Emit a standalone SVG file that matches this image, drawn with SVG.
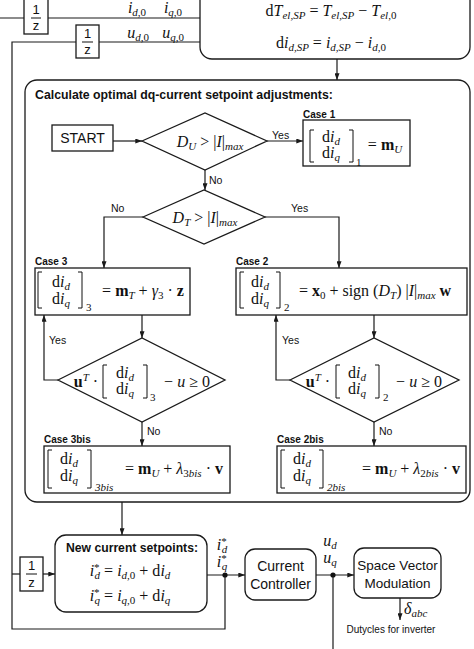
<svg xmlns="http://www.w3.org/2000/svg" width="474" height="649" viewBox="0 0 474 649">
<defs>
<marker id="ah" viewBox="0 0 8 6" refX="8" refY="3" markerWidth="7" markerHeight="5" markerUnits="userSpaceOnUse" orient="auto"><path d="M0,0 L8,3 L0,6 z" fill="#1a1a1a"/></marker>
<style>
.ln{fill:none;stroke:#1a1a1a;stroke-width:1.2}
.bx{fill:#fff;stroke:#1a1a1a;stroke-width:1.3}
.br{fill:none;stroke:#111;stroke-width:1}
.m{font-family:"Liberation Serif","DejaVu Serif",serif;font-size:16px;fill:#111}
.r{font-size:16px}
.i{font-style:italic}
.s{font-size:11px}
.b{font-weight:bold}
.sa{font-family:"Liberation Sans",Arial,sans-serif;fill:#111}
.lbl{font-size:10px;font-weight:bold}
.yn{font-size:10.5px}
.z{font-size:13px}
</style>
</defs>
<rect width="474" height="649" fill="#fff"/>

<g id="optimizer">
<rect class="bx" x="25" y="80" width="445" height="422" rx="12"/>
<text class="sa b" x="35" y="99" font-size="12.3">Calculate optimal dq-current setpoint adjustments:</text>
</g>

<g id="setpoint-box">
<rect class="bx" x="200" y="-30" width="270" height="89" rx="12"/>
<text class="m" x="331" y="16" text-anchor="middle" font-size="19">d<tspan class="i">T</tspan><tspan class="i s" dy="3">el,SP</tspan><tspan dy="-3"> = </tspan><tspan class="i">T</tspan><tspan class="i s" dy="3">el,SP</tspan><tspan dy="-3"> − </tspan><tspan class="i">T</tspan><tspan class="s" dy="3"><tspan class="i">el</tspan>,0</tspan></text>
<text class="m" x="331" y="48" text-anchor="middle" font-size="19">d<tspan class="i">i</tspan><tspan class="i s" dy="3">d,SP</tspan><tspan dy="-3"> = </tspan><tspan class="i">i</tspan><tspan class="i s" dy="3">d,SP</tspan><tspan dy="-3"> − </tspan><tspan class="i">i</tspan><tspan class="s" dy="3"><tspan class="i">d</tspan>,0</tspan></text>
</g>

<g id="connectors">
<path class="ln" d="M0 18 H24 M48 18 H200"/>
<path class="ln" d="M99 42 H200"/>
<path class="ln" d="M76 42 H12 V629 H225 V575"/>
<path class="ln" d="M337 59 V80" marker-end="url(#ah)"/>
<path class="ln" d="M113 141 H142" marker-end="url(#ah)"/>
<path class="ln" d="M267 141 H303" marker-end="url(#ah)"/>
<path class="ln" d="M205 170 V190" marker-end="url(#ah)"/>
<path class="ln" d="M143 217 H104 V268" marker-end="url(#ah)"/>
<path class="ln" d="M265 217 H339 V268" marker-end="url(#ah)"/>
<path class="ln" d="M142 315 V338" marker-end="url(#ah)"/>
<path class="ln" d="M58 380 H44 V315" marker-end="url(#ah)"/>
<path class="ln" d="M142 422 V446" marker-end="url(#ah)"/>
<path class="ln" d="M374 315 V338" marker-end="url(#ah)"/>
<path class="ln" d="M290 380 H276 V315" marker-end="url(#ah)"/>
<path class="ln" d="M374 422 V446" marker-end="url(#ah)"/>
<path class="ln" d="M122 502 V535" marker-end="url(#ah)"/>
<path class="ln" d="M12 574 H20"/>
<path class="ln" d="M43 574 H55" marker-end="url(#ah)"/>
<path class="ln" d="M207 575 H245" marker-end="url(#ah)"/>
<path class="ln" d="M316 575 H354" marker-end="url(#ah)"/>
<path class="ln" d="M333 575 V649"/>
<path class="ln" d="M400 598 V620" marker-end="url(#ah)"/>
<circle cx="225" cy="575" r="2.6" fill="#111"/>
<circle cx="333" cy="575" r="2.6" fill="#111"/>
</g>

<g id="labels">
<text class="m" x="137" y="13" text-anchor="middle"><tspan class="i">i</tspan><tspan class="s" dy="3"><tspan class="i">d</tspan>,0</tspan></text>
<text class="m" x="173" y="13" text-anchor="middle"><tspan class="i">i</tspan><tspan class="s" dy="3"><tspan class="i">q</tspan>,0</tspan></text>
<text class="m" x="138" y="38" text-anchor="middle"><tspan class="i">u</tspan><tspan class="s" dy="3"><tspan class="i">d</tspan>,0</tspan></text>
<text class="m" x="173" y="38" text-anchor="middle"><tspan class="i">u</tspan><tspan class="s" dy="3"><tspan class="i">q</tspan>,0</tspan></text>
<text class="sa yn" x="272" y="139">Yes</text>
<text class="sa yn" x="209" y="184">No</text>
<text class="sa yn" x="111" y="212">No</text>
<text class="sa yn" x="291" y="212">Yes</text>
<text class="sa yn" x="49" y="344">Yes</text>
<text class="sa yn" x="147" y="435">No</text>
<text class="sa yn" x="282" y="344">Yes</text>
<text class="sa yn" x="379" y="435">No</text>
<text class="m" x="222" y="550" text-anchor="middle"><tspan class="i">i</tspan><tspan class="s" dy="-5">*</tspan><tspan class="i s" dx="-5" dy="8">d</tspan></text>
<text class="m" x="222" y="567" text-anchor="middle"><tspan class="i">i</tspan><tspan class="s" dy="-5">*</tspan><tspan class="i s" dx="-5" dy="8">q</tspan></text>
<text class="m" x="330" y="546" text-anchor="middle"><tspan class="i">u</tspan><tspan class="i s" dy="3">d</tspan></text>
<text class="m" x="330" y="563" text-anchor="middle" font-size="14"><tspan class="i">u</tspan><tspan class="i s" dy="3">q</tspan></text>
<text class="m" x="404" y="614"><tspan class="i">δ</tspan><tspan class="i s" dy="3">abc</tspan></text>
<text class="sa" x="391" y="633" text-anchor="middle" font-size="10">Dutycles for inverter</text>
</g>

<g id="delay-top1">
<rect class="bx" x="24" y="-6" width="24" height="40"/>
<text class="sa z" x="36" y="14" text-anchor="middle">1</text>
<path class="br" d="M31 18 H41"/>
<text class="sa z" x="36" y="30" text-anchor="middle">z</text>
</g>
<g id="delay-top2">
<rect class="bx" x="76" y="25" width="23" height="33"/>
<text class="sa z" x="87.5" y="38" text-anchor="middle">1</text>
<path class="br" d="M82 42 H93"/>
<text class="sa z" x="87.5" y="54" text-anchor="middle">z</text>
</g>

<g id="start">
<rect class="bx" x="52" y="125" width="61" height="26"/>
<text class="sa" x="82.5" y="143" text-anchor="middle" font-size="14">START</text>
</g>

<g id="dec1">
<polygon class="bx" points="142,141 205,113 267,141 205,170"/>
<text class="m" x="210" y="147" text-anchor="middle" font-size="18"><tspan class="i">D</tspan><tspan class="i s" dy="3">U</tspan><tspan dy="-3"> &gt;  |</tspan><tspan class="i">I</tspan><tspan>|</tspan><tspan class="i s" dy="3">max</tspan></text>
</g>

<g id="case1">
<text class="sa lbl" x="303" y="118">Case 1</text>
<rect class="bx" x="303" y="120" width="107" height="46"/>
<path class="br" d="M314 130 H310 V162 H314 M349 130 H353 V162 H349"/>
<text class="m r" x="331" y="142" text-anchor="middle">d<tspan class="i">i</tspan><tspan class="i s" dy="3">d</tspan></text>
<text class="m r" x="331" y="158" text-anchor="middle">d<tspan class="i">i</tspan><tspan class="i s" dy="3">q</tspan></text>
<text class="m s" x="356" y="166">1</text>
<text class="m" x="385" y="150" text-anchor="middle" font-size="17">= <tspan class="b">m</tspan><tspan class="i s" dy="3">U</tspan></text>
</g>

<g id="dec2">
<polygon class="bx" points="143,217 204,190 265,217 204,244"/>
<text class="m" x="205" y="223" text-anchor="middle" font-size="18"><tspan class="i">D</tspan><tspan class="i s" dy="3">T</tspan><tspan dy="-3"> &gt; |</tspan><tspan class="i">I</tspan><tspan>|</tspan><tspan class="i s" dy="3">max</tspan></text>
</g>

<g id="case3">
<text class="sa lbl" x="35" y="265">Case 3</text>
<rect class="bx" x="35" y="268" width="155" height="47"/>
<path class="br" d="M42 272 H38 V308 H42 M78 272 H82 V308 H78"/>
<text class="m r" x="61" y="287" text-anchor="middle">d<tspan class="i">i</tspan><tspan class="i s" dy="3">d</tspan></text>
<text class="m r" x="61" y="304" text-anchor="middle">d<tspan class="i">i</tspan><tspan class="i s" dy="3">q</tspan></text>
<text class="m s" x="86" y="311">3</text>
<text class="m" x="143" y="296" text-anchor="middle" font-size="17">= <tspan class="b">m</tspan><tspan class="i s" dy="3">T</tspan><tspan dy="-3"> + </tspan><tspan class="i">γ</tspan><tspan class="s" dy="3">3</tspan><tspan dy="-3"> · </tspan><tspan class="b">z</tspan></text>
</g>

<g id="case2">
<text class="sa lbl" x="236" y="265">Case 2</text>
<rect class="bx" x="236" y="268" width="231" height="47"/>
<path class="br" d="M244 272 H240 V308 H244 M276 272 H280 V308 H276"/>
<text class="m r" x="260" y="287" text-anchor="middle">d<tspan class="i">i</tspan><tspan class="i s" dy="3">d</tspan></text>
<text class="m r" x="260" y="304" text-anchor="middle">d<tspan class="i">i</tspan><tspan class="i s" dy="3">q</tspan></text>
<text class="m s" x="284" y="311">2</text>
<text class="m" x="375" y="296" text-anchor="middle" font-size="16.5">= <tspan class="b">x</tspan><tspan class="s" dy="3">0</tspan><tspan dy="-3"> + sign (</tspan><tspan class="i">D</tspan><tspan class="i s" dy="3">T</tspan><tspan dy="-3">) |</tspan><tspan class="i">I</tspan><tspan>|</tspan><tspan class="i s" dy="3">max</tspan><tspan class="b" dy="-3"> w</tspan></text>
</g>

<g id="dec3">
<polygon class="bx" points="58,380 142,338 225,380 142,422"/>
<text class="m" x="86" y="387" text-anchor="middle" font-size="17"><tspan class="b">u</tspan><tspan class="i s" dy="-6">T</tspan><tspan dy="6"> ·</tspan></text>
<path class="br" d="M107 365 H103 V398 H107 M143 365 H147 V398 H143"/>
<text class="m" x="125" y="378" text-anchor="middle">d<tspan class="i">i</tspan><tspan class="i s" dy="3">d</tspan></text>
<text class="m" x="125" y="394" text-anchor="middle">d<tspan class="i">i</tspan><tspan class="i s" dy="3">q</tspan></text>
<text class="m s" x="150" y="401">3</text>
<text class="m" x="187" y="387" text-anchor="middle" font-size="17">− <tspan class="i">u</tspan> ≥ 0</text>
</g>

<g id="dec4">
<polygon class="bx" points="290,380 374,338 459,380 374,422"/>
<text class="m" x="318" y="387" text-anchor="middle" font-size="17"><tspan class="b">u</tspan><tspan class="i s" dy="-6">T</tspan><tspan dy="6"> ·</tspan></text>
<path class="br" d="M340 365 H336 V398 H340 M375 365 H379 V398 H375"/>
<text class="m" x="357" y="378" text-anchor="middle">d<tspan class="i">i</tspan><tspan class="i s" dy="3">d</tspan></text>
<text class="m" x="357" y="394" text-anchor="middle">d<tspan class="i">i</tspan><tspan class="i s" dy="3">q</tspan></text>
<text class="m s" x="383" y="401">2</text>
<text class="m" x="419" y="387" text-anchor="middle" font-size="17">− <tspan class="i">u</tspan> ≥ 0</text>
</g>

<g id="case3bis">
<text class="sa lbl" x="44" y="443">Case 3bis</text>
<rect class="bx" x="44" y="446" width="186" height="47"/>
<path class="br" d="M52 450 H48 V488 H52 M87 450 H91 V488 H87"/>
<text class="m r" x="69" y="464" text-anchor="middle">d<tspan class="i">i</tspan><tspan class="i s" dy="3">d</tspan></text>
<text class="m r" x="69" y="481" text-anchor="middle">d<tspan class="i">i</tspan><tspan class="i s" dy="3">q</tspan></text>
<text class="m s i" x="95" y="491">3bis</text>
<text class="m" x="174" y="474" text-anchor="middle" font-size="17">= <tspan class="b">m</tspan><tspan class="i s" dy="3">U</tspan><tspan dy="-3"> + </tspan><tspan class="i">λ</tspan><tspan class="s" dy="3">3<tspan class="i">bis</tspan></tspan><tspan dy="-3"> · </tspan><tspan class="b">v</tspan></text>
</g>

<g id="case2bis">
<text class="sa lbl" x="277" y="443">Case 2bis</text>
<rect class="bx" x="277" y="446" width="189" height="47"/>
<path class="br" d="M285 450 H281 V488 H285 M319 450 H323 V488 H319"/>
<text class="m r" x="302" y="464" text-anchor="middle">d<tspan class="i">i</tspan><tspan class="i s" dy="3">d</tspan></text>
<text class="m r" x="302" y="481" text-anchor="middle">d<tspan class="i">i</tspan><tspan class="i s" dy="3">q</tspan></text>
<text class="m s i" x="327" y="491">2bis</text>
<text class="m" x="411" y="474" text-anchor="middle" font-size="17">= <tspan class="b">m</tspan><tspan class="i s" dy="3">U</tspan><tspan dy="-3"> + </tspan><tspan class="i">λ</tspan><tspan class="s" dy="3">2<tspan class="i">bis</tspan></tspan><tspan dy="-3"> · </tspan><tspan class="b">v</tspan></text>
</g>

<g id="delay-bottom">
<rect class="bx" x="20" y="557" width="23" height="34"/>
<text class="sa z" x="31.5" y="570" text-anchor="middle">1</text>
<path class="br" d="M26 574 H37"/>
<text class="sa z" x="31.5" y="587" text-anchor="middle">z</text>
</g>

<g id="new-setpoints">
<rect class="bx" x="55" y="535" width="152" height="77" rx="11"/>
<text class="sa b" x="132" y="552" text-anchor="middle" font-size="12.2">New current setpoints:</text>
<text class="m" x="130" y="576" text-anchor="middle" font-size="17.5"><tspan class="i">i</tspan><tspan class="s" dy="-5">*</tspan><tspan class="i s" dx="-5" dy="8">d</tspan><tspan dy="-3"> = </tspan><tspan class="i">i</tspan><tspan class="s" dy="3"><tspan class="i">d</tspan>,0</tspan><tspan dy="-3"> + d</tspan><tspan class="i">i</tspan><tspan class="i s" dy="3">d</tspan></text>
<text class="m" x="130" y="601" text-anchor="middle" font-size="17.5"><tspan class="i">i</tspan><tspan class="s" dy="-5">*</tspan><tspan class="i s" dx="-5" dy="8">q</tspan><tspan dy="-3"> = </tspan><tspan class="i">i</tspan><tspan class="s" dy="3"><tspan class="i">q</tspan>,0</tspan><tspan dy="-3"> + d</tspan><tspan class="i">i</tspan><tspan class="i s" dy="3">q</tspan></text>
</g>

<g id="current-controller">
<rect class="bx" x="245" y="549" width="71" height="51" rx="10"/>
<text class="sa" x="280.5" y="571" text-anchor="middle" font-size="14">Current</text>
<text class="sa" x="280.5" y="589" text-anchor="middle" font-size="14">Controller</text>
</g>

<g id="svm">
<rect class="bx" x="354" y="548" width="87" height="50" rx="10"/>
<text class="sa" x="397.5" y="570" text-anchor="middle" font-size="13.5">Space Vector</text>
<text class="sa" x="397.5" y="588" text-anchor="middle" font-size="13.5">Modulation</text>
</g>
</svg>
